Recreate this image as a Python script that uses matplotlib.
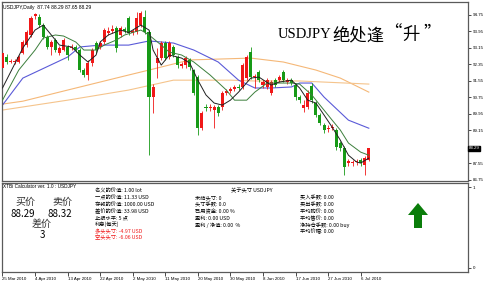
import matplotlib
matplotlib.use('Agg')
import matplotlib.pyplot as plt
import matplotlib.transforms as mtransforms
from matplotlib.patches import Polygon

plt.rcParams['font.family'] = ['Noto Sans CJK SC', 'DejaVu Sans']

# daily bars (one per trading day incl. Sunday bars), 25 Mar 2010 .. 7 Jul 2010
opens = [92.18, 92.71, 92.47, 92.45, 92.47, 92.91, 93.29, 93.78, 94.70, 94.65,
         94.26, 93.68, 93.20, 93.54, 92.91, 93.05, 93.20, 93.15, 93.20, 93.05,
         92.08, 91.84, 92.42, 93.39, 93.20, 93.44, 93.90, 93.98, 94.12, 93.78,
         94.05, 94.60, 93.90, 93.92, 94.26, 94.65, 93.92, 90.77, 92.42, 92.66,
         93.39, 92.71, 93.20, 92.71, 92.30, 92.32, 92.57, 92.08, 91.74, 89.26,
         90.30, 90.25, 90.14, 90.28, 90.28, 90.98, 91.08, 91.18, 91.28, 91.26,
         91.69, 92.95, 91.72, 91.98, 91.35, 91.26, 90.96, 91.59, 91.59, 91.98,
         91.50, 91.59, 91.35, 90.77, 90.24, 90.28, 91.30, 90.48, 89.90, 89.41,
         89.22, 89.28, 89.17, 88.54, 88.30, 87.58, 87.55, 87.60, 87.71, 87.47,
         87.74]
highs = [93.05, 92.85, 92.60, 92.62, 92.80, 93.52, 94.00, 94.70, 94.85, 94.80,
         94.35, 93.80, 93.55, 93.62, 93.25, 93.62, 93.30, 93.35, 93.30, 93.15,
         92.20, 92.55, 93.15, 93.50, 93.48, 94.10, 94.15, 94.25, 94.20, 94.20,
         94.15, 94.70, 94.05, 94.90, 94.95, 94.99, 94.00, 91.40, 93.15, 93.50,
         93.50, 93.48, 93.30, 92.80, 92.45, 92.75, 92.65, 92.15, 91.85, 90.10,
         90.45, 90.45, 90.40, 90.40, 91.05, 91.15, 91.25, 91.35, 91.40, 92.40,
         92.80, 93.20, 91.90, 92.10, 91.60, 91.70, 91.60, 91.70, 91.85, 92.10,
         91.70, 91.70, 91.45, 90.85, 90.62, 91.11, 91.45, 90.60, 90.00, 89.50,
         89.40, 89.45, 89.25, 88.65, 88.40, 87.75, 87.72, 87.78, 87.80, 87.90,
         88.29]
lows = [91.98, 92.35, 92.40, 92.38, 92.40, 92.85, 93.20, 93.70, 94.55, 94.15,
        93.60, 93.10, 92.81, 92.95, 92.80, 92.98, 92.57, 93.05, 92.95, 92.00,
        91.75, 91.59, 92.30, 92.90, 93.10, 93.35, 93.80, 93.90, 92.95, 93.70,
        93.88, 93.80, 93.80, 93.85, 94.15, 93.85, 87.95, 89.99, 91.69, 92.55,
        92.55, 92.60, 92.70, 92.20, 92.20, 92.20, 92.10, 90.85, 88.93, 89.15,
        90.10, 90.10, 89.26, 89.85, 90.15, 90.85, 90.95, 91.05, 91.10, 91.15,
        91.60, 91.65, 91.21, 91.50, 91.20, 91.15, 90.85, 91.25, 91.50, 91.50,
        91.40, 91.35, 90.65, 90.50, 90.05, 90.20, 90.50, 89.80, 89.40, 89.05,
        89.10, 89.15, 88.20, 88.15, 86.98, 87.45, 87.45, 87.50, 87.45, 86.98,
        87.65]
closes = [92.91, 92.47, 92.50, 92.52, 92.71, 93.44, 93.92, 94.60, 94.78, 94.26,
          93.68, 93.20, 93.44, 93.05, 93.15, 93.54, 92.81, 93.22, 93.05, 92.08,
          91.84, 92.42, 93.05, 93.05, 93.39, 94.02, 93.95, 94.05, 93.15, 94.12,
          93.98, 93.88, 93.95, 94.60, 94.85, 93.92, 90.77, 91.26, 92.66, 93.39,
          92.66, 93.39, 92.81, 92.32, 92.36, 92.66, 92.23, 90.96, 89.26, 89.99,
          90.25, 90.30, 90.28, 89.99, 90.96, 91.04, 91.14, 91.24, 91.22, 92.32,
          92.71, 91.74, 91.78, 91.59, 91.50, 91.59, 91.50, 91.35, 91.74, 91.59,
          91.59, 91.45, 90.77, 90.62, 90.38, 90.96, 90.62, 89.90, 89.51, 89.17,
          89.28, 89.34, 88.34, 88.29, 87.40, 87.65, 87.62, 87.66, 87.57, 87.81,
          88.29]

# moving averages (bar number, price)
ma_black_bar = [0, 5, 8, 10, 12, 14, 17, 19, 21, 23, 24, 26, 29, 31, 34, 36, 37, 39,
                41, 44, 46, 48, 50, 52, 54, 56, 58, 61, 63, 66, 68, 71, 73, 75, 77,
                79, 81, 83, 85, 87, 88, 90]
ma_black = [91.21, 93.15, 94.02, 94.26, 93.78, 93.29, 93.20, 92.81, 92.47, 92.81,
            93.44, 93.78, 94.02, 93.90, 94.26, 94.02, 93.05, 92.32, 92.81, 92.66,
            92.42, 91.59, 90.87, 90.48, 90.38, 90.62, 91.01, 91.69, 91.74, 91.35,
            91.50, 91.59, 91.21, 90.62, 90.48, 89.90, 89.31, 88.68, 87.95, 87.62,
            87.57, 87.81]
ma_green_bar = [0, 4, 8, 10, 13, 15, 18, 20, 23, 25, 28, 30, 34, 36, 39, 41, 44, 47,
                51, 55, 57, 60, 62, 65, 68, 71, 73, 76, 78, 81, 83, 85, 88, 90]
ma_green = [90.62, 92.08, 93.05, 93.63, 93.78, 93.73, 93.44, 93.05, 93.05, 93.29,
            93.54, 93.78, 94.02, 93.78, 93.29, 92.95, 92.81, 92.47, 91.84, 91.11,
            90.62, 90.62, 91.01, 91.45, 91.45, 91.45, 91.40, 90.87, 90.38, 89.65,
            89.17, 88.54, 88.10, 87.95]
ma_blue_bar = [0, 5, 16, 19, 24, 31, 36, 42, 47, 53, 58, 62, 66, 71, 73, 76, 79, 85, 90]
ma_blue = [90.38, 91.69, 92.71, 93.20, 93.29, 93.29, 93.49, 93.39, 93.05, 92.47,
           91.59, 91.21, 91.21, 91.26, 91.45, 91.45, 90.77, 89.65, 89.26]
ma_orange1_bar = [0, 5, 16, 31, 36, 46, 61, 69, 77, 83, 90]
ma_orange1 = [90.43, 90.57, 91.11, 91.84, 92.08, 92.57, 92.66, 92.47, 92.08, 91.69, 91.01]
ma_orange2_bar = [0, 16, 31, 42, 56, 62, 73, 90]
ma_orange2 = [90.14, 90.62, 91.11, 91.59, 91.59, 91.55, 91.55, 91.40]

price_ticks = [86.75, 87.55, 89.15, 89.95, 90.75, 91.55, 92.35, 93.15, 93.95, 94.75]
last_price = 88.29

date_bars = [0, 8, 16, 24, 32, 40, 48, 56, 64, 72, 80, 88]
date_labels = ['25 Mar 2010', '4 Apr 2010', '13 Apr 2010', '22 Apr 2010', '2 May 2010',
               '11 May 2010', '20 May 2010', '30 May 2010', '8 Jun 2010', '17 Jun 2010',
               '27 Jun 2010', '6 Jul 2010']

calc_lines = ['名义的价值: 1.00 lot', '一点的价值: 11.33 USD', '存款的价值: 1000.00 USD',
              '差价的价值: 33.98 USD', '止损水平: 5 点', '利息(每天)',
              '多头头寸: -4.97 USD', '空头头寸: -6.06 USD']
pos_lines = ['未结头寸: 0', '头寸手数: 0.0', '已用资金: 0.00 %', '盈利: 0.00 USD',
             '盈利 / 净值: 0.00  %']
lot_lines = ['买入手数: 0.00', '卖出手数: 0.00', '平均购价: 0.00', '平均售价: 0.00',
             '净持仓手数: 0.00 buy', '平均价幅: 0.00']

W, H = 488, 281
fig = plt.figure(figsize=(W / 100, H / 100), dpi=100)


def fx(x):
    return x / W


def fy(y):
    return 1 - y / H


ax = fig.add_axes([fx(2), fy(181), fx(468) - fx(2), fy(2) - fy(181)])
ax2 = fig.add_axes([fx(2), fy(272), fx(468) - fx(2), fy(183) - fy(272)])

RED = '#f01818'
GREEN = '#179a17'
bars = list(range(len(opens)))
cols = [RED if c >= o else GREEN for o, c in zip(opens, closes)]
ax.vlines(bars, lows, highs, colors=cols, lw=0.6, zorder=2)
bottoms = [min(o, c) for o, c in zip(opens, closes)]
heights = [max(abs(c - o), 0.04) for o, c in zip(opens, closes)]
ax.bar(bars, heights, bottom=bottoms, width=0.75, color=cols, lw=0, zorder=3)

ax.plot(ma_orange1_bar, ma_orange1, color='#f5b878', lw=0.8, zorder=1)
ax.plot(ma_orange2_bar, ma_orange2, color='#f5c48c', lw=0.8, zorder=1)
ax.plot(ma_blue_bar, ma_blue, color='#5a5ad8', lw=0.8, zorder=1)
ax.plot(ma_green_bar, ma_green, color='#3c7f3c', lw=0.7, zorder=4)
ax.plot(ma_black_bar, ma_black, color='#202020', lw=0.7, zorder=4)

ax.set_xlim(-0.12, 114.37)
ax.set_ylim(86.70, 95.38)
ax.set_xticks([])
ax.yaxis.tick_right()
ax.set_yticks(price_ticks)
ax.set_yticklabels([f'{t:.2f}' for t in price_ticks])
ax.tick_params(axis='y', labelsize=3.2, length=2, width=0.5, pad=1.5,
               labelfontfamily='Liberation Sans')
trans = mtransforms.blended_transform_factory(ax.transAxes, ax.transData)
ax.text(1.002, last_price, f'{last_price:.2f}', transform=trans, fontsize=3.2,
        family='Liberation Sans', color='white', va='center', ha='left',
        bbox=dict(boxstyle='square,pad=0.15', fc='black', ec='black'))

ax.text(0.002, 0.985, 'USDJPY,Daily  87.74 88.29 87.65 88.29', transform=ax.transAxes,
        fontsize=3.6, family='Liberation Sans', va='top', ha='left')

fig.text(fx(331), fy(35), 'USDJPY', fontsize=10.5, family='Liberation Serif',
         ha='right', va='center')
fig.text(fx(332), fy(35), '绝处逢', fontsize=12.5, ha='left', va='center')
fig.text(fx(393), fy(33), '“', fontsize=12.5, ha='center', va='center')
fig.text(fx(411), fy(35), '升', fontsize=12.5, ha='center', va='center')
fig.text(fx(432), fy(33), '”', fontsize=12.5, ha='center', va='center')

for a in (ax, ax2):
    for s in a.spines.values():
        s.set_color('#5a5a5a')
        s.set_linewidth(0.9)

# lower panel
ax2.set_xlim(-0.12, 114.37)
ax2.set_ylim(-0.05, 1.05)
ax2.yaxis.tick_right()
ax2.set_yticks([0, 1])
ax2.set_yticklabels(['0', '1'])
ax2.tick_params(axis='y', labelsize=3.2, length=2, width=0.5, pad=1.5,
                labelfontfamily='Liberation Sans')
ax2.set_xticks(date_bars)
ax2.set_xticklabels(date_labels, ha='left')
ax2.tick_params(axis='x', labelsize=3.2, length=3, width=0.5, pad=0.5,
                labelfontfamily='Liberation Sans')

fig.text(fx(3), fy(187), 'XTBi Calculator ver. 1.0 : USDJPY', fontsize=3.4,
         family='Liberation Sans', va='center')
fig.text(fx(25), fy(202), '买价', fontsize=7.2, ha='center', va='center', color='#333333')
fig.text(fx(62), fy(202), '卖价', fontsize=7.2, ha='center', va='center', color='#333333')
fig.text(fx(23), fy(214), '88.29', fontsize=7, ha='center', va='center')
fig.text(fx(60), fy(214), '88.32', fontsize=7, ha='center', va='center')
fig.text(fx(42), fy(224), '差价', fontsize=7.2, ha='center', va='center', color='#333333')
fig.text(fx(42), fy(235), '3', fontsize=7, ha='center', va='center')

FS = 3.8
for k, line in enumerate(calc_lines):
    fig.text(fx(95), fy(191 + 6.7 * k), line, fontsize=FS, va='center',
             color=RED if k >= 6 else 'black')
fig.text(fx(231), fy(191), '关于头寸 USDJPY', fontsize=FS, va='center')
for k, line in enumerate(pos_lines):
    fig.text(fx(195), fy(198 + 6.7 * k), line, fontsize=FS, va='center')
for k, line in enumerate(lot_lines):
    fig.text(fx(300), fy(198 + 6.7 * k), line, fontsize=FS, va='center')

arrow_px = [(418, 203), (428, 215), (422, 215), (422, 228), (414, 228), (414, 215), (408, 215)]
fig.patches.append(Polygon([(fx(x), fy(y)) for x, y in arrow_px], closed=True,
                           transform=fig.transFigure, fc='#0a7d0a', ec='none'))

fig.savefig('out.png', dpi=100)
